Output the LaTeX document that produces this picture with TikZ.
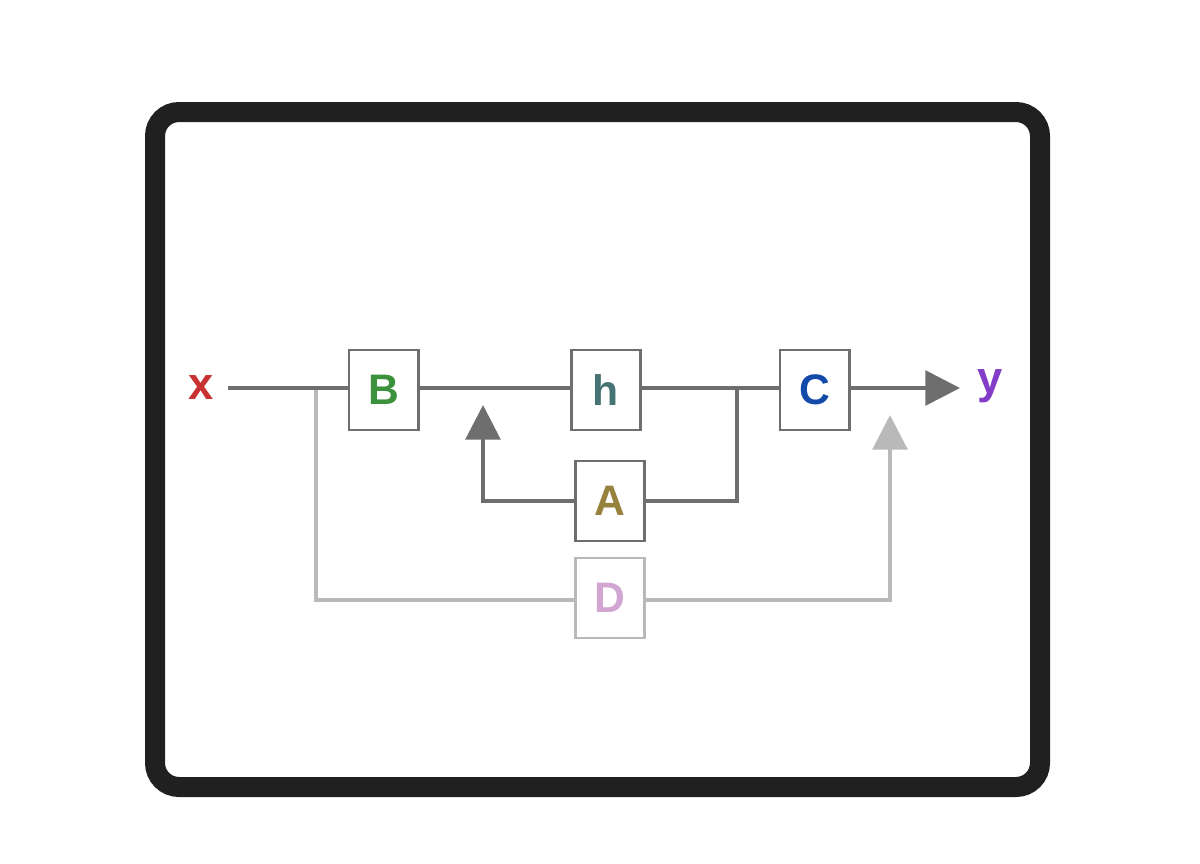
\documentclass[tikz,border=0pt]{standalone}
\usepackage{fontspec}
\setmainfont{Liberation Sans}
\usetikzlibrary{arrows.meta}
\definecolor{wire}{RGB}{110,110,110}
\definecolor{lightwire}{RGB}{185,185,185}
\definecolor{xred}{RGB}{200,50,50}
\definecolor{ypurple}{RGB}{130,60,200}
\definecolor{bgreen}{RGB}{60,145,60}
\definecolor{hteal}{RGB}{70,115,115}
\definecolor{cblue}{RGB}{20,75,170}
\definecolor{aolive}{RGB}{150,130,60}
\definecolor{dpink}{RGB}{210,165,210}
\tikzset{every picture/.style={line width=0.75pt}}
\tikzset{
  blk/.style={draw=#1,line width=2pt,fill=white,minimum width=52pt,minimum height=60pt,inner sep=0pt,font=\fontsize{32}{36}\selectfont\bfseries},
  lbl/.style={inner sep=0.75pt,font=\fontsize{34}{38}\selectfont\bfseries},
  tip/.style={-{Triangle[length=26pt,width=26pt]}}
}
\begin{document}
\begin{tikzpicture}[x=0.75pt,y=0.75pt,yscale=-1,xscale=1]
\useasboundingbox (0,0) rectangle (1200,864);

%Frame
\draw [line width=15pt,color={rgb, 255:red, 32; green, 32; blue, 32 },rounded corners=18pt] (155,112) rectangle (1040,787);

% Text Node
\node [lbl,text=xred] (x) at (201,388) {x};
\node [lbl,text=ypurple] (y) at (990,386) {y};

% Junctions
\coordinate (xin) at (228,388);
\coordinate (split) at (316,388);
\coordinate (tap) at (737,388);
\coordinate (yout) at (960,388);
\coordinate (aleft) at (483,501);
\coordinate (aup) at (483,405);
\coordinate (dleft) at (316,600);
\coordinate (dright) at (890,600);
\coordinate (dup) at (890,415);

%D path
\draw [color=lightwire,line width=3pt] (split) -- (dleft) -- (575,600);
\draw [color=lightwire,line width=3pt,tip] (645,600) -- (dright) -- (dup);

%Blocks
\node [blk=wire,text=bgreen] (B) at (383.5,390) {B};
\node [blk=wire,text=hteal] (h) at (606,390) {h};
\node [blk=wire,text=cblue] (C) at (814.5,390) {C};
\node [blk=wire,text=aolive] (A) at (610,501) {A};
\node [blk=lightwire,text=dpink] (D) at (610,598) {D};

%Main line
\draw [color=wire,line width=3pt] (xin) -- (B.west |- xin);
\draw [color=wire,line width=3pt] (B.east |- xin) -- (h.west |- xin);
\draw [color=wire,line width=3pt] (h.east |- xin) -- (C.west |- xin);
\draw [color=wire,line width=3pt,tip] (C.east |- xin) -- (yout);

%Feedback through A
\draw [color=wire,line width=3pt] (tap) |- (A.east);
\draw [color=wire,line width=3pt,tip] (A.west) -- (aleft) -- (aup);

\end{tikzpicture}
\end{document}
